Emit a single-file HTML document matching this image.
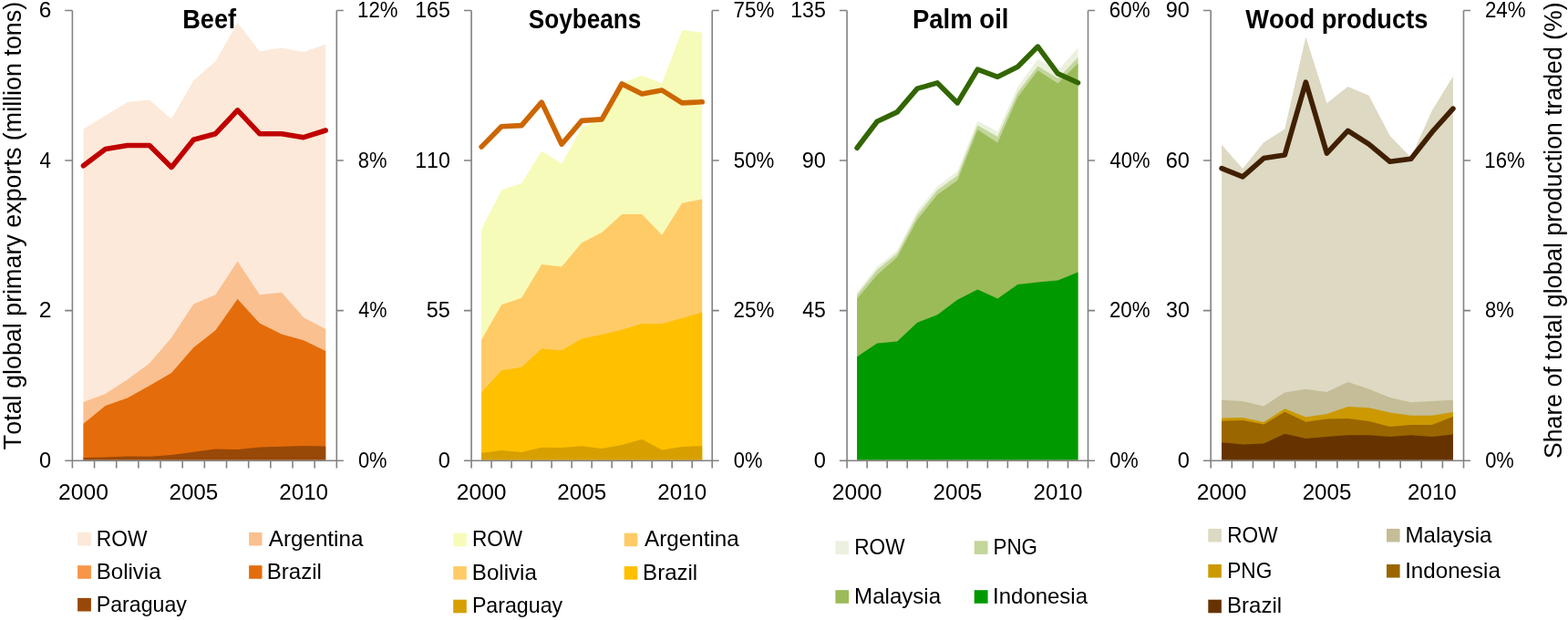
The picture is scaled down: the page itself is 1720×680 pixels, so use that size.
<!DOCTYPE html>
<html><head><meta charset="utf-8"><title>Commodity exports</title>
<style>
html,body{margin:0;padding:0;background:#fff;}
body{width:1720px;height:680px;overflow:hidden;}
svg{display:block;}
text{font-family:'Liberation Sans', Arial, sans-serif;fill:#000;font-kerning:none;}
</style></head><body>
<svg width="1720" height="680" viewBox="0 0 1720 680">
<rect width="1720" height="680" fill="#fff"/>
<polygon points="91.48,504.60 91.48,141.50 115.64,126.80 139.80,112.10 163.95,109.60 188.11,130.50 212.27,88.20 236.43,67.30 260.59,25.00 284.75,56.30 308.90,52.60 333.06,57.00 357.22,48.50 357.22,504.60" fill="#FDE9D9"/>
<polygon points="91.48,504.60 91.48,440.90 115.64,432.10 139.80,416.20 163.95,398.60 188.11,370.30 212.27,333.50 236.43,323.20 260.59,286.50 284.75,323.20 308.90,320.70 333.06,348.20 357.22,361.10 357.22,504.60" fill="#FAC090"/>
<polygon points="91.48,504.60 91.48,464.80 115.64,444.90 139.80,436.50 163.95,422.90 188.11,408.90 212.27,381.30 236.43,362.20 260.59,328.00 284.75,354.50 308.90,366.60 333.06,373.20 357.22,385.00 357.22,504.60" fill="#E46C0A"/>
<polygon points="91.48,504.60 91.48,501.90 115.64,501.60 139.80,500.50 163.95,500.80 188.11,499.00 212.27,495.70 236.43,492.40 260.59,493.10 284.75,490.60 308.90,489.80 333.06,489.10 357.22,489.40 357.22,504.60" fill="#984807"/>
<path d="M79.40,11.50V505.20 M369.30,11.50V505.20 M71.20,505.20H376.80 M71.20,340.63H79.40 M369.30,340.63H376.80 M71.20,176.07H79.40 M369.30,176.07H376.80 M71.20,11.50H79.40 M369.30,11.50H376.80 M79.40,505.20V513.40 M103.56,505.20V513.40 M127.72,505.20V513.40 M151.88,505.20V513.40 M176.03,505.20V513.40 M200.19,505.20V513.40 M224.35,505.20V513.40 M248.51,505.20V513.40 M272.67,505.20V513.40 M296.82,505.20V513.40 M320.98,505.20V513.40 M345.14,505.20V513.40 M369.30,505.20V513.40" stroke="#828282" stroke-width="1.6" fill="none"/>
<polyline points="91.48,181.70 115.64,163.60 139.80,159.50 163.95,159.50 188.11,183.40 212.27,153.20 236.43,146.70 260.59,120.90 284.75,146.70 308.90,146.70 333.06,150.70 357.22,143.00" fill="none" stroke="#C00000" stroke-width="5.6" stroke-linejoin="round" stroke-linecap="round"/>
<text x="42.98" y="512.80" font-size="23.3" textLength="13.15" lengthAdjust="spacingAndGlyphs">0</text>
<text x="42.65" y="348.23" font-size="23.3" textLength="13.79" lengthAdjust="spacingAndGlyphs">2</text>
<text x="43.39" y="183.67" font-size="23.3" textLength="12.47" lengthAdjust="spacingAndGlyphs">4</text>
<text x="42.66" y="19.10" font-size="23.3" textLength="13.62" lengthAdjust="spacingAndGlyphs">6</text>
<text x="392.94" y="512.80" font-size="23.3" textLength="31.64" lengthAdjust="spacingAndGlyphs">0%</text>
<text x="393.30" y="348.23" font-size="23.3" textLength="31.27" lengthAdjust="spacingAndGlyphs">4%</text>
<text x="392.85" y="183.67" font-size="23.3" textLength="31.74" lengthAdjust="spacingAndGlyphs">8%</text>
<text x="392.11" y="19.10" font-size="23.3" textLength="44.38" lengthAdjust="spacingAndGlyphs">12%</text>
<text x="64.14" y="547.60" font-size="23.3" textLength="54.80" lengthAdjust="spacingAndGlyphs">2000</text>
<text x="185.45" y="547.60" font-size="23.3" textLength="53.83" lengthAdjust="spacingAndGlyphs">2005</text>
<text x="306.25" y="547.60" font-size="23.3" textLength="53.76" lengthAdjust="spacingAndGlyphs">2010</text>
<text x="200.29" y="31.10" font-size="29" font-weight="bold" textLength="58.76" lengthAdjust="spacingAndGlyphs">Beef</text>
<rect x="85.10" y="583.90" width="14.80" height="14.6" fill="#FDE9D9"/>
<text x="105.83" y="598.50" font-size="23.4" textLength="55.75" lengthAdjust="spacingAndGlyphs">ROW</text>
<rect x="273.10" y="583.90" width="14.40" height="14.6" fill="#FAC090"/>
<text x="294.75" y="598.50" font-size="23.4" textLength="103.65" lengthAdjust="spacingAndGlyphs">Argentina</text>
<rect x="85.10" y="620.20" width="14.80" height="14.6" fill="#F79646"/>
<text x="105.73" y="634.80" font-size="23.4" textLength="70.87" lengthAdjust="spacingAndGlyphs">Bolivia</text>
<rect x="273.10" y="620.20" width="14.40" height="14.6" fill="#E46C0A"/>
<text x="292.83" y="634.80" font-size="23.4" textLength="60.08" lengthAdjust="spacingAndGlyphs">Brazil</text>
<rect x="85.10" y="655.90" width="14.80" height="14.6" fill="#984807"/>
<text x="105.80" y="670.50" font-size="23.4" textLength="99.04" lengthAdjust="spacingAndGlyphs">Paraguay</text>
<polygon points="528.10,504.60 528.10,251.50 550.11,208.30 572.12,201.10 594.13,165.40 616.14,179.40 638.15,139.70 660.15,130.50 682.16,91.20 704.17,82.70 726.18,91.20 748.19,33.10 770.20,35.70 770.20,504.60" fill="#F7FBB9"/>
<polygon points="528.10,504.60 528.10,372.80 550.11,334.20 572.12,326.80 594.13,290.10 616.14,292.60 638.15,266.20 660.15,255.10 682.16,234.90 704.17,234.90 726.18,257.70 748.19,222.80 770.20,218.40 770.20,504.60" fill="#FFCB67"/>
<polygon points="528.10,504.60 528.10,430.60 550.11,406.20 572.12,402.80 594.13,382.40 616.14,384.30 638.15,371.60 660.15,367.10 682.16,361.80 704.17,355.10 726.18,355.10 748.19,349.10 770.20,342.40 770.20,504.60" fill="#FFC000"/>
<polygon points="528.10,504.60 528.10,496.80 550.11,494.10 572.12,496.00 594.13,490.70 616.14,490.90 638.15,489.30 660.15,492.00 682.16,488.00 704.17,481.70 726.18,493.60 748.19,489.90 770.20,489.10 770.20,504.60" fill="#D7A000"/>
<path d="M517.10,11.50V505.20 M781.20,11.50V505.20 M508.90,505.20H788.70 M508.90,340.63H517.10 M781.20,340.63H788.70 M508.90,176.07H517.10 M781.20,176.07H788.70 M508.90,11.50H517.10 M781.20,11.50H788.70 M517.10,505.20V513.40 M539.11,505.20V513.40 M561.12,505.20V513.40 M583.12,505.20V513.40 M605.13,505.20V513.40 M627.14,505.20V513.40 M649.15,505.20V513.40 M671.16,505.20V513.40 M693.17,505.20V513.40 M715.18,505.20V513.40 M737.18,505.20V513.40 M759.19,505.20V513.40 M781.20,505.20V513.40" stroke="#828282" stroke-width="1.6" fill="none"/>
<polyline points="528.10,161.10 550.11,138.70 572.12,137.60 594.13,112.10 616.14,158.20 638.15,132.40 660.15,130.90 682.16,92.00 704.17,103.00 726.18,99.00 748.19,112.90 770.20,111.80" fill="none" stroke="#CC6600" stroke-width="5.6" stroke-linejoin="round" stroke-linecap="round"/>
<text x="480.68" y="512.80" font-size="23.3" textLength="13.15" lengthAdjust="spacingAndGlyphs">0</text>
<text x="467.86" y="348.23" font-size="23.3" textLength="26.02" lengthAdjust="spacingAndGlyphs">55</text>
<text x="455.13" y="183.67" font-size="23.3" textLength="38.67" lengthAdjust="spacingAndGlyphs">110</text>
<text x="455.13" y="19.10" font-size="23.3" textLength="38.74" lengthAdjust="spacingAndGlyphs">165</text>
<text x="804.84" y="512.80" font-size="23.3" textLength="31.64" lengthAdjust="spacingAndGlyphs">0%</text>
<text x="804.58" y="348.23" font-size="23.3" textLength="44.72" lengthAdjust="spacingAndGlyphs">25%</text>
<text x="804.81" y="183.67" font-size="23.3" textLength="44.48" lengthAdjust="spacingAndGlyphs">50%</text>
<text x="804.55" y="19.10" font-size="23.3" textLength="44.74" lengthAdjust="spacingAndGlyphs">75%</text>
<text x="500.77" y="547.60" font-size="23.3" textLength="54.80" lengthAdjust="spacingAndGlyphs">2000</text>
<text x="611.33" y="547.60" font-size="23.3" textLength="53.83" lengthAdjust="spacingAndGlyphs">2005</text>
<text x="721.37" y="547.60" font-size="23.3" textLength="53.76" lengthAdjust="spacingAndGlyphs">2010</text>
<text x="579.85" y="31.10" font-size="29" font-weight="bold" textLength="123.42" lengthAdjust="spacingAndGlyphs">Soybeans</text>
<rect x="497.20" y="584.70" width="14.60" height="14.6" fill="#F7FBB9"/>
<text x="517.95" y="599.30" font-size="23.4" textLength="55.23" lengthAdjust="spacingAndGlyphs">ROW</text>
<rect x="684.70" y="584.70" width="14.60" height="14.6" fill="#FFCB67"/>
<text x="707.05" y="599.30" font-size="23.4" textLength="103.65" lengthAdjust="spacingAndGlyphs">Argentina</text>
<rect x="497.20" y="621.10" width="14.60" height="14.6" fill="#FFCB67"/>
<text x="517.82" y="635.70" font-size="23.4" textLength="70.98" lengthAdjust="spacingAndGlyphs">Bolivia</text>
<rect x="684.70" y="621.10" width="14.60" height="14.6" fill="#FFC000"/>
<text x="705.13" y="635.70" font-size="23.4" textLength="60.08" lengthAdjust="spacingAndGlyphs">Brazil</text>
<rect x="497.20" y="657.70" width="14.60" height="14.6" fill="#D7A000"/>
<text x="517.90" y="672.30" font-size="23.4" textLength="99.25" lengthAdjust="spacingAndGlyphs">Paraguay</text>
<polygon points="940.12,504.60 940.12,320.50 962.15,292.50 984.18,274.50 1006.22,231.50 1028.25,204.50 1050.28,187.50 1072.32,132.70 1094.35,144.20 1116.38,95.40 1138.42,64.70 1160.45,77.30 1182.48,52.40 1182.48,504.60" fill="#EBF1DE"/>
<polygon points="940.12,504.60 940.12,323.50 962.15,296.00 984.18,278.00 1006.22,236.00 1028.25,208.50 1050.28,192.50 1072.32,137.50 1094.35,150.00 1116.38,101.20 1138.42,72.50 1160.45,85.90 1182.48,63.00 1182.48,504.60" fill="#C3D69B"/>
<polygon points="940.12,504.60 940.12,327.70 962.15,301.50 984.18,282.00 1006.22,241.00 1028.25,213.50 1050.28,197.80 1072.32,142.30 1094.35,156.60 1116.38,106.50 1138.42,77.30 1160.45,91.60 1182.48,69.60 1182.48,504.60" fill="#9BBB59"/>
<polygon points="940.12,504.60 940.12,391.20 962.15,376.50 984.18,374.60 1006.22,353.70 1028.25,345.20 1050.28,328.70 1072.32,317.60 1094.35,327.60 1116.38,312.10 1138.42,309.60 1160.45,307.40 1182.48,298.50 1182.48,504.60" fill="#009900"/>
<path d="M929.10,11.50V505.20 M1193.50,11.50V505.20 M920.90,505.20H1201.00 M920.90,340.63H929.10 M1193.50,340.63H1201.00 M920.90,176.07H929.10 M1193.50,176.07H1201.00 M920.90,11.50H929.10 M1193.50,11.50H1201.00 M929.10,505.20V513.40 M951.13,505.20V513.40 M973.17,505.20V513.40 M995.20,505.20V513.40 M1017.23,505.20V513.40 M1039.27,505.20V513.40 M1061.30,505.20V513.40 M1083.33,505.20V513.40 M1105.37,505.20V513.40 M1127.40,505.20V513.40 M1149.43,505.20V513.40 M1171.47,505.20V513.40 M1193.50,505.20V513.40" stroke="#828282" stroke-width="1.6" fill="none"/>
<polyline points="940.12,162.30 962.15,133.20 984.18,122.90 1006.22,97.10 1028.25,90.90 1050.28,112.90 1072.32,76.20 1094.35,84.30 1116.38,73.20 1138.42,51.10 1160.45,80.80 1182.48,90.80" fill="none" stroke="#336600" stroke-width="5.6" stroke-linejoin="round" stroke-linecap="round"/>
<text x="892.68" y="512.80" font-size="23.3" textLength="13.15" lengthAdjust="spacingAndGlyphs">0</text>
<text x="880.27" y="348.23" font-size="23.3" textLength="25.59" lengthAdjust="spacingAndGlyphs">45</text>
<text x="879.70" y="183.67" font-size="23.3" textLength="26.12" lengthAdjust="spacingAndGlyphs">90</text>
<text x="867.13" y="19.10" font-size="23.3" textLength="38.74" lengthAdjust="spacingAndGlyphs">135</text>
<text x="1217.14" y="512.80" font-size="23.3" textLength="31.64" lengthAdjust="spacingAndGlyphs">0%</text>
<text x="1216.88" y="348.23" font-size="23.3" textLength="44.72" lengthAdjust="spacingAndGlyphs">20%</text>
<text x="1217.49" y="183.67" font-size="23.3" textLength="44.09" lengthAdjust="spacingAndGlyphs">40%</text>
<text x="1216.87" y="19.10" font-size="23.3" textLength="44.73" lengthAdjust="spacingAndGlyphs">60%</text>
<text x="912.78" y="547.60" font-size="23.3" textLength="54.80" lengthAdjust="spacingAndGlyphs">2000</text>
<text x="1023.47" y="547.60" font-size="23.3" textLength="53.83" lengthAdjust="spacingAndGlyphs">2005</text>
<text x="1133.63" y="547.60" font-size="23.3" textLength="53.76" lengthAdjust="spacingAndGlyphs">2010</text>
<text x="1000.96" y="31.10" font-size="29" font-weight="bold" textLength="105.49" lengthAdjust="spacingAndGlyphs">Palm oil</text>
<rect x="916.40" y="593.30" width="14.70" height="14.6" fill="#EBF1DE"/>
<text x="937.24" y="607.90" font-size="23.4" textLength="55.33" lengthAdjust="spacingAndGlyphs">ROW</text>
<rect x="1068.70" y="593.30" width="14.90" height="14.6" fill="#C3D69B"/>
<text x="1089.46" y="607.90" font-size="23.4" textLength="48.51" lengthAdjust="spacingAndGlyphs">PNG</text>
<rect x="916.40" y="647.20" width="14.70" height="14.6" fill="#9BBB59"/>
<text x="937.13" y="661.80" font-size="23.4" textLength="94.97" lengthAdjust="spacingAndGlyphs">Malaysia</text>
<rect x="1068.70" y="647.20" width="14.90" height="14.6" fill="#009900"/>
<text x="1089.09" y="661.80" font-size="23.4" textLength="103.91" lengthAdjust="spacingAndGlyphs">Indonesia</text>
<polygon points="1340.10,504.60 1340.10,158.80 1363.17,184.90 1386.25,156.30 1409.32,141.50 1432.39,40.40 1455.46,113.20 1478.54,94.90 1501.61,104.80 1524.68,148.90 1547.75,172.80 1570.83,121.30 1593.90,83.80 1593.90,504.60" fill="#DDD9C3"/>
<polygon points="1340.10,504.60 1340.10,438.80 1363.17,440.10 1386.25,445.60 1409.32,430.40 1432.39,426.70 1455.46,429.90 1478.54,419.10 1501.61,426.70 1524.68,435.90 1547.75,441.30 1570.83,440.10 1593.90,438.80 1593.90,504.60" fill="#C4BD97"/>
<polygon points="1340.10,504.60 1340.10,458.60 1363.17,457.90 1386.25,463.10 1409.32,448.20 1432.39,457.40 1455.46,453.90 1478.54,446.10 1501.61,447.20 1524.68,452.60 1547.75,455.80 1570.83,455.80 1593.90,452.10 1593.90,504.60" fill="#CC9900"/>
<polygon points="1340.10,504.60 1340.10,461.80 1363.17,461.00 1386.25,465.50 1409.32,451.80 1432.39,462.80 1455.46,459.50 1478.54,459.10 1501.61,462.00 1524.68,468.00 1547.75,466.00 1570.83,466.00 1593.90,457.00 1593.90,504.60" fill="#996600"/>
<polygon points="1340.10,504.60 1340.10,485.30 1363.17,487.40 1386.25,486.60 1409.32,475.70 1432.39,480.90 1455.46,479.00 1478.54,477.20 1501.61,477.20 1524.68,479.00 1547.75,477.20 1570.83,479.00 1593.90,476.50 1593.90,504.60" fill="#663300"/>
<path d="M1328.20,11.50V505.20 M1605.50,11.50V505.20 M1320.00,505.20H1613.00 M1320.00,340.63H1328.20 M1605.50,340.63H1613.00 M1320.00,176.07H1328.20 M1605.50,176.07H1613.00 M1320.00,11.50H1328.20 M1605.50,11.50H1613.00 M1328.20,505.20V513.40 M1351.31,505.20V513.40 M1374.42,505.20V513.40 M1397.53,505.20V513.40 M1420.63,505.20V513.40 M1443.74,505.20V513.40 M1466.85,505.20V513.40 M1489.96,505.20V513.40 M1513.07,505.20V513.40 M1536.17,505.20V513.40 M1559.28,505.20V513.40 M1582.39,505.20V513.40 M1605.50,505.20V513.40" stroke="#828282" stroke-width="1.6" fill="none"/>
<polyline points="1340.10,184.60 1363.17,193.80 1386.25,173.60 1409.32,169.90 1432.39,90.10 1455.46,168.10 1478.54,143.40 1501.61,158.20 1524.68,177.30 1547.75,174.30 1570.83,144.90 1593.90,119.20" fill="none" stroke="#402000" stroke-width="5.6" stroke-linejoin="round" stroke-linecap="round"/>
<text x="1291.78" y="512.80" font-size="23.3" textLength="13.15" lengthAdjust="spacingAndGlyphs">0</text>
<text x="1279.01" y="348.23" font-size="23.3" textLength="25.90" lengthAdjust="spacingAndGlyphs">30</text>
<text x="1278.70" y="183.67" font-size="23.3" textLength="26.22" lengthAdjust="spacingAndGlyphs">60</text>
<text x="1278.80" y="19.10" font-size="23.3" textLength="26.12" lengthAdjust="spacingAndGlyphs">90</text>
<text x="1629.14" y="512.80" font-size="23.3" textLength="31.64" lengthAdjust="spacingAndGlyphs">0%</text>
<text x="1629.05" y="348.23" font-size="23.3" textLength="31.74" lengthAdjust="spacingAndGlyphs">8%</text>
<text x="1628.31" y="183.67" font-size="23.3" textLength="44.38" lengthAdjust="spacingAndGlyphs">16%</text>
<text x="1628.88" y="19.10" font-size="23.3" textLength="44.72" lengthAdjust="spacingAndGlyphs">24%</text>
<text x="1312.76" y="547.60" font-size="23.3" textLength="54.80" lengthAdjust="spacingAndGlyphs">2000</text>
<text x="1428.65" y="547.60" font-size="23.3" textLength="53.83" lengthAdjust="spacingAndGlyphs">2005</text>
<text x="1544.01" y="547.60" font-size="23.3" textLength="53.76" lengthAdjust="spacingAndGlyphs">2010</text>
<text x="1366.37" y="31.10" font-size="29" font-weight="bold" textLength="200.05" lengthAdjust="spacingAndGlyphs">Wood products</text>
<rect x="1325.30" y="579.90" width="14.60" height="14.6" fill="#DDD9C3"/>
<text x="1346.24" y="594.50" font-size="23.4" textLength="55.33" lengthAdjust="spacingAndGlyphs">ROW</text>
<rect x="1521.00" y="579.90" width="14.60" height="14.6" fill="#C4BD97"/>
<text x="1541.42" y="594.50" font-size="23.4" textLength="95.08" lengthAdjust="spacingAndGlyphs">Malaysia</text>
<rect x="1325.30" y="619.00" width="14.60" height="14.6" fill="#CC9900"/>
<text x="1346.24" y="633.60" font-size="23.4" textLength="49.16" lengthAdjust="spacingAndGlyphs">PNG</text>
<rect x="1521.00" y="619.00" width="14.60" height="14.6" fill="#996600"/>
<text x="1541.17" y="633.60" font-size="23.4" textLength="104.73" lengthAdjust="spacingAndGlyphs">Indonesia</text>
<rect x="1325.30" y="657.70" width="14.60" height="14.6" fill="#663300"/>
<text x="1346.13" y="672.30" font-size="23.4" textLength="59.97" lengthAdjust="spacingAndGlyphs">Brazil</text>
<text transform="translate(22.90,492.60) rotate(-90)" x="-0.60" y="0" font-size="27" textLength="491.37" lengthAdjust="spacingAndGlyphs">Total global primary exports (million tons)</text>
<text transform="translate(1712.90,501.80) rotate(-90)" x="-1.21" y="0" font-size="27" textLength="500.56" lengthAdjust="spacingAndGlyphs">Share of total global production traded (%)</text>
</svg>
</body></html>
